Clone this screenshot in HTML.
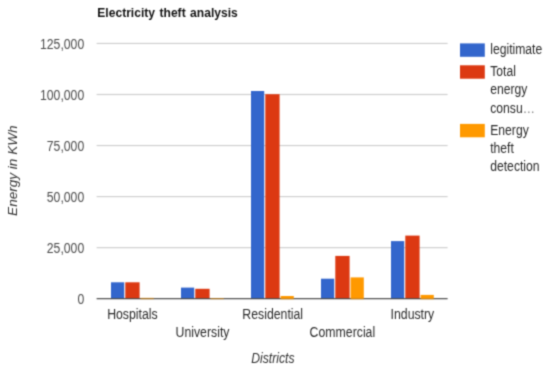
<!DOCTYPE html>
<html><head><meta charset="utf-8"><title>Electricity theft analysis</title>
<style>html,body{margin:0;padding:0;background:#fff}svg{display:block}</style></head>
<body>
<svg width="550" height="370" viewBox="0 0 550 370" font-family="'Liberation Sans', Arial, sans-serif" font-size="12">
<defs><filter id="soft" x="0" y="0" width="100%" height="100%" filterUnits="objectBoundingBox" color-interpolation-filters="sRGB"><feConvolveMatrix order="3" kernelMatrix="0.0324 0.1152 0.0324 0.1152 0.4096 0.1152 0.0324 0.1152 0.0324" edgeMode="duplicate" preserveAlpha="true"/></filter></defs>
<g filter="url(#soft)">
<rect x="-5" y="-5" width="560" height="380" fill="#fff"/>
<rect x="96.6" y="42.85" width="351.0" height="1.2" fill="#d0d0d0"/>
<rect x="96.6" y="93.90" width="351.0" height="1.2" fill="#d0d0d0"/>
<rect x="96.6" y="144.95" width="351.0" height="1.2" fill="#d0d0d0"/>
<rect x="96.6" y="196.00" width="351.0" height="1.2" fill="#d0d0d0"/>
<rect x="96.6" y="247.05" width="351.0" height="1.2" fill="#d0d0d0"/>
<rect x="111.0" y="282.3" width="13.20" height="16.40" fill="#3366cc"/>
<rect x="125.3" y="282.3" width="14.30" height="16.40" fill="#dc3912"/>
<rect x="140.6" y="297.9" width="13.20" height="0.80" fill="#ff9900"/>
<rect x="181.0" y="287.6" width="13.20" height="11.10" fill="#3366cc"/>
<rect x="195.3" y="288.8" width="14.30" height="9.90" fill="#dc3912"/>
<rect x="210.6" y="298.1" width="13.20" height="0.60" fill="#ff9900"/>
<rect x="251.0" y="91.0" width="13.20" height="207.70" fill="#3366cc"/>
<rect x="265.3" y="94.2" width="14.30" height="204.50" fill="#dc3912"/>
<rect x="280.6" y="296.0" width="13.20" height="2.70" fill="#ff9900"/>
<rect x="321.0" y="278.7" width="13.20" height="20.00" fill="#3366cc"/>
<rect x="335.3" y="255.9" width="14.30" height="42.80" fill="#dc3912"/>
<rect x="350.6" y="277.4" width="13.20" height="21.30" fill="#ff9900"/>
<rect x="391.0" y="241.1" width="13.20" height="57.60" fill="#3366cc"/>
<rect x="405.3" y="235.6" width="14.30" height="63.10" fill="#dc3912"/>
<rect x="420.6" y="294.9" width="13.20" height="3.80" fill="#ff9900"/>
<rect x="96.6" y="298.15" width="351.0" height="1.1" fill="#3c3c3c"/>
<rect x="140.6" y="298.15" width="13.20" height="1.1" fill="#ff9900" opacity="0.5"/>
<rect x="210.6" y="298.15" width="13.20" height="1.1" fill="#ff9900" opacity="0.5"/>
<rect x="280.6" y="298.15" width="13.20" height="1.1" fill="#ff9900" opacity="0.85"/>
<rect x="350.6" y="298.15" width="13.20" height="1.1" fill="#ff9900" opacity="0.85"/>
<rect x="420.6" y="298.15" width="13.20" height="1.1" fill="#ff9900" opacity="0.85"/>
<text transform="translate(97.3,17.2) scale(1.008,1.13)" text-anchor="start" fill="#111" font-weight="bold" word-spacing="1.1">Electricity theft analysis</text>
<text transform="translate(84.2,48.7) scale(1.02,1.16)" text-anchor="end" fill="#4a4a4a" >125,000</text>
<text transform="translate(84.2,99.75) scale(1.02,1.16)" text-anchor="end" fill="#4a4a4a" >100,000</text>
<text transform="translate(84.2,150.8) scale(1.02,1.16)" text-anchor="end" fill="#4a4a4a" >75,000</text>
<text transform="translate(84.2,201.84999999999997) scale(1.02,1.16)" text-anchor="end" fill="#4a4a4a" >50,000</text>
<text transform="translate(84.2,252.89999999999998) scale(1.02,1.16)" text-anchor="end" fill="#4a4a4a" >25,000</text>
<text transform="translate(84.2,303.55) scale(1.02,1.16)" text-anchor="end" fill="#4a4a4a" >0</text>
<text transform="translate(132.4,318.7) scale(1.025,1.16)" text-anchor="middle" fill="#2a2a2a" >Hospitals</text>
<text transform="translate(202.5,337.0) scale(1.025,1.16)" text-anchor="middle" fill="#2a2a2a" >University</text>
<text transform="translate(272.7,318.7) scale(1.025,1.16)" text-anchor="middle" fill="#2a2a2a" >Residential</text>
<text transform="translate(342.4,336.6) scale(1.025,1.16)" text-anchor="middle" fill="#2a2a2a" >Commercial</text>
<text transform="translate(412.4,318.7) scale(1.025,1.16)" text-anchor="middle" fill="#2a2a2a" >Industry</text>
<text transform="translate(272.9,363.3) scale(1.02,1.16)" text-anchor="middle" fill="#333" font-style="italic">Districts</text>
<text transform="translate(17,170.7) scale(1,1.13) rotate(-90)" text-anchor="middle" fill="#333" font-style="italic">Energy in KWh</text>
<rect x="460" y="43.4" width="24.8" height="13.4" fill="#3366cc"/>
<rect x="460" y="65.3" width="24.8" height="13.4" fill="#dc3912"/>
<rect x="460" y="123.9" width="24.8" height="13.4" fill="#ff9900"/>
<text transform="translate(490.2,54.0) scale(1.015,1.16)" text-anchor="start" fill="#2a2a2a" >legitimate</text>
<text transform="translate(490.2,75.9) scale(1.015,1.16)" text-anchor="start" fill="#2a2a2a" >Total</text>
<text transform="translate(490.2,94.2) scale(1.015,1.16)" text-anchor="start" fill="#2a2a2a" >energy</text>
<text transform="translate(490.2,112.9) scale(1.015,1.16)" text-anchor="start" fill="#2a2a2a" >consu<tspan fill="#777">…</tspan></text>
<text transform="translate(490.2,135.2) scale(1.015,1.16)" text-anchor="start" fill="#2a2a2a" >Energy</text>
<text transform="translate(490.2,152.8) scale(1.015,1.16)" text-anchor="start" fill="#2a2a2a" >theft</text>
<text transform="translate(490.2,171.1) scale(1.015,1.16)" text-anchor="start" fill="#2a2a2a" >detection</text>
</g></svg>
</body></html>
